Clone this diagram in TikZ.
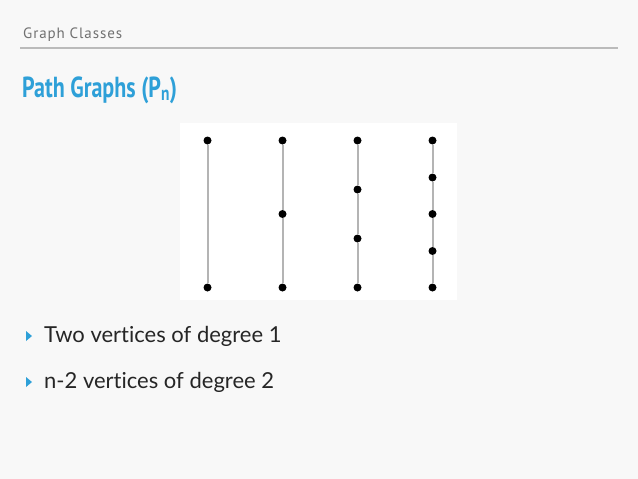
\documentclass[tikz,border=0pt]{standalone}
\usepackage{fontspec}
\setmainfont[Ligatures={NoCommon,NoRare}]{Lato}
\newfontfamily\headfont{PT Sans}
\newfontfamily\smallheadfont[LetterSpace=6]{PT Sans}
\usepackage{graphicx}
\definecolor{bg}{HTML}{F8F8F8}
\definecolor{titleblue}{HTML}{2EA0D8}
\definecolor{headgray}{HTML}{707070}
\definecolor{rulegray}{HTML}{BBBBBB}
\definecolor{edgegray}{HTML}{B4B4B4}
\tikzset{
  vtx/.style={circle,fill=black,inner sep=0pt,minimum size=8pt},
  pedge/.style={draw=edgegray,line width=2pt},
  bullettext/.style={anchor=west,inner sep=0pt,font=\fontsize{22}{26}\selectfont,text=black!85},
  bulletmark/.style={fill=titleblue,draw=none}
}
\begin{document}
\begin{tikzpicture}[x=1pt,y=-1pt]
\fill[bg] (0,0) rectangle (638,479);
\useasboundingbox (0,0) rectangle (638,479);
% header
\node[anchor=west,inner sep=0pt,text=headgray,font=\smallheadfont\fontsize{15}{17}\selectfont] (head) at (23,35) {Graph Classes};
\coordinate (rl) at (20,48);
\coordinate (rr) at (618,48);
\draw[rulegray,line width=1.5pt] (rl) -- (rr);
% title
\node[anchor=west,inner sep=0pt,text=titleblue,font=\headfont\bfseries\fontsize{29}{32}\selectfont] (title) at (22,90) {\scalebox{0.76}[1]{Path Graphs (P\textsubscript{n})}};
% white box
\fill[white] (180,123) rectangle (457,300);
% column 1
\node[vtx] (a1) at (207.5,140.5) {};
\node[vtx] (a2) at (207.5,287.5) {};
\draw[pedge] (a1) -- (a2);
% column 2
\node[vtx] (b1) at (282.5,140.5) {};
\node[vtx] (b2) at (282.5,214) {};
\node[vtx] (b3) at (282.5,287.5) {};
\draw[pedge] (b1) -- (b2) -- (b3);
% column 3
\node[vtx] (c1) at (357.5,140.5) {};
\node[vtx] (c2) at (357.5,189.5) {};
\node[vtx] (c3) at (357.5,238.5) {};
\node[vtx] (c4) at (357.5,287.5) {};
\draw[pedge] (c1) -- (c2) -- (c3) -- (c4);
% column 4
\node[vtx] (d1) at (432.5,140.5) {};
\node[vtx] (d2) at (432.5,177.5) {};
\node[vtx] (d3) at (432.5,214) {};
\node[vtx] (d4) at (432.5,251) {};
\node[vtx] (d5) at (432.5,287.5) {};
\draw[pedge] (d1) -- (d2) -- (d3) -- (d4) -- (d5);
% bullets
\fill[bulletmark] (26,331) -- (32,336) -- (26,341) -- cycle;
\node[bullettext] (t1) at (44,336) {Two vertices of degree 1};
\fill[bulletmark] (26,377) -- (32,382) -- (26,387) -- cycle;
\node[bullettext] (t2) at (44,382) {n-2 vertices of degree 2};
\end{tikzpicture}
\end{document}
